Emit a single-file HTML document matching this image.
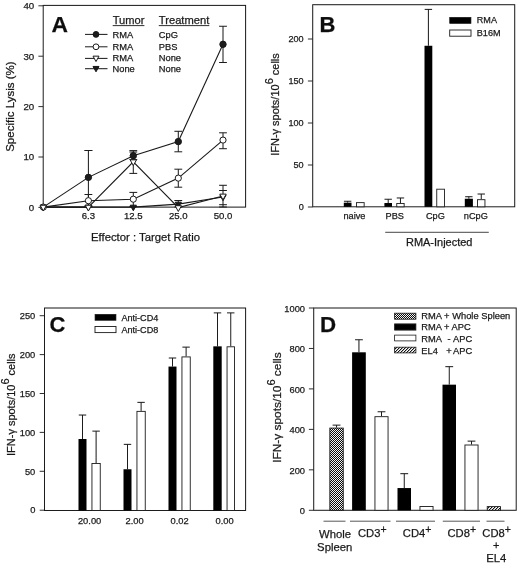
<!DOCTYPE html>
<html lang="en"><head><meta charset="utf-8"><title>Figure</title>
<style>html,body{margin:0;padding:0;background:#fff}svg{display:block}text{font-family:"Liberation Sans",sans-serif;stroke:#1a1a1a;stroke-width:0.25px}</style>
</head><body>
<svg width="520" height="564" viewBox="0 0 520 564">
<defs>
<pattern id="chk" width="2" height="2" patternUnits="userSpaceOnUse"><rect width="2" height="2" fill="#0a0a0a"/><rect width="1" height="1" fill="#f4f4f4"/><rect x="1" y="1" width="1" height="1" fill="#f4f4f4"/></pattern>
<pattern id="hat" width="3" height="3" patternUnits="userSpaceOnUse"><rect width="3" height="3" fill="#fff"/><rect x="0" y="0" width="1" height="1" fill="#b5b5b5"/><rect x="0" y="2" width="1" height="1" fill="#111"/><rect x="1" y="1" width="1" height="1" fill="#111"/><rect x="1" y="2" width="1" height="1" fill="#b5b5b5"/><rect x="2" y="0" width="1" height="1" fill="#111"/><rect x="2" y="1" width="1" height="1" fill="#b5b5b5"/></pattern>
<filter id="soft" x="0" y="0" width="520" height="564" filterUnits="userSpaceOnUse"><feGaussianBlur stdDeviation="0.4"/></filter>
</defs>
<rect width="520" height="564" fill="#fff"/>
<g filter="url(#soft)">
<rect x="43.20" y="5.40" width="202.40" height="201.70" fill="none" stroke="#1a1a1a" stroke-width="1"/>
<line x1="38.40" y1="207.40" x2="43.20" y2="207.40" stroke="#1a1a1a" stroke-width="0.9"/>
<text x="34.20" y="210.80" font-size="9.7" text-anchor="end" font-weight="normal" fill="#1a1a1a" >0</text>
<line x1="38.40" y1="157.00" x2="43.20" y2="157.00" stroke="#1a1a1a" stroke-width="0.9"/>
<text x="34.20" y="160.40" font-size="9.7" text-anchor="end" font-weight="normal" fill="#1a1a1a" >10</text>
<line x1="38.40" y1="106.60" x2="43.20" y2="106.60" stroke="#1a1a1a" stroke-width="0.9"/>
<text x="34.20" y="110.00" font-size="9.7" text-anchor="end" font-weight="normal" fill="#1a1a1a" >20</text>
<line x1="38.40" y1="56.20" x2="43.20" y2="56.20" stroke="#1a1a1a" stroke-width="0.9"/>
<text x="34.20" y="59.60" font-size="9.7" text-anchor="end" font-weight="normal" fill="#1a1a1a" >30</text>
<line x1="38.40" y1="5.80" x2="43.20" y2="5.80" stroke="#1a1a1a" stroke-width="0.9"/>
<text x="34.20" y="9.20" font-size="9.7" text-anchor="end" font-weight="normal" fill="#1a1a1a" >40</text>
<text x="88.40" y="218.70" font-size="9.6" text-anchor="middle" font-weight="normal" fill="#1a1a1a" >6.3</text>
<text x="133.30" y="218.70" font-size="9.6" text-anchor="middle" font-weight="normal" fill="#1a1a1a" >12.5</text>
<text x="178.30" y="218.70" font-size="9.6" text-anchor="middle" font-weight="normal" fill="#1a1a1a" >25.0</text>
<text x="223.00" y="218.70" font-size="9.6" text-anchor="middle" font-weight="normal" fill="#1a1a1a" >50.0</text>
<text x="145.50" y="240.60" font-size="11.5" text-anchor="middle" font-weight="normal" fill="#1a1a1a" textLength="109" lengthAdjust="spacingAndGlyphs">Effector : Target Ratio</text>
<text transform="translate(13.5,106.6) rotate(-90)" font-size="11.5" text-anchor="middle" fill="#1a1a1a" textLength="90.5" lengthAdjust="spacingAndGlyphs">Specific Lysis (%)</text>
<text x="51.60" y="32.20" font-size="22.8" text-anchor="start" font-weight="bold" fill="#111" >A</text>
<text x="112.70" y="23.70" font-size="11" text-anchor="start" font-weight="normal" fill="#1a1a1a" textLength="31.7" lengthAdjust="spacingAndGlyphs">Tumor</text>
<text x="158.80" y="23.70" font-size="11" text-anchor="start" font-weight="normal" fill="#1a1a1a" textLength="50.5" lengthAdjust="spacingAndGlyphs">Treatment</text>
<line x1="112.70" y1="25.60" x2="144.40" y2="25.60" stroke="#1a1a1a" stroke-width="0.9"/>
<line x1="158.80" y1="25.60" x2="209.30" y2="25.60" stroke="#1a1a1a" stroke-width="0.9"/>
<line x1="85.00" y1="34.40" x2="107.50" y2="34.40" stroke="#1a1a1a" stroke-width="1"/>
<circle cx="96.00" cy="34.40" r="2.9" fill="#1a1a1a" stroke="#1a1a1a" stroke-width="1"/>
<text x="112.50" y="37.60" font-size="9.3" text-anchor="start" font-weight="normal" fill="#1a1a1a" >RMA</text>
<text x="158.80" y="37.60" font-size="9.3" text-anchor="start" font-weight="normal" fill="#1a1a1a" >CpG</text>
<line x1="85.00" y1="46.80" x2="107.50" y2="46.80" stroke="#1a1a1a" stroke-width="1"/>
<circle cx="96.00" cy="46.80" r="2.9" fill="#fff" stroke="#1a1a1a" stroke-width="1"/>
<text x="112.50" y="49.90" font-size="9.3" text-anchor="start" font-weight="normal" fill="#1a1a1a" >RMA</text>
<text x="158.80" y="49.90" font-size="9.3" text-anchor="start" font-weight="normal" fill="#1a1a1a" >PBS</text>
<line x1="85.00" y1="58.40" x2="107.50" y2="58.40" stroke="#1a1a1a" stroke-width="1"/>
<polygon points="93.00,56.15 99.00,56.15 96.00,61.55" fill="#fff" stroke="#1a1a1a" stroke-width="1"/>
<text x="112.50" y="61.40" font-size="9.3" text-anchor="start" font-weight="normal" fill="#1a1a1a" >RMA</text>
<text x="158.80" y="61.40" font-size="9.3" text-anchor="start" font-weight="normal" fill="#1a1a1a" >None</text>
<line x1="85.00" y1="68.70" x2="107.50" y2="68.70" stroke="#1a1a1a" stroke-width="1"/>
<polygon points="93.00,66.45 99.00,66.45 96.00,71.85" fill="#1a1a1a" stroke="#1a1a1a" stroke-width="1"/>
<text x="112.50" y="71.60" font-size="9.3" text-anchor="start" font-weight="normal" fill="#1a1a1a" >None</text>
<text x="158.80" y="71.60" font-size="9.3" text-anchor="start" font-weight="normal" fill="#1a1a1a" >None</text>
<line x1="88.40" y1="150.50" x2="88.40" y2="206.00" stroke="#1a1a1a" stroke-width="1"/>
<line x1="84.30" y1="150.50" x2="92.50" y2="150.50" stroke="#1a1a1a" stroke-width="1"/>
<line x1="84.30" y1="206.00" x2="92.50" y2="206.00" stroke="#1a1a1a" stroke-width="1"/>
<line x1="133.30" y1="152.00" x2="133.30" y2="159.50" stroke="#1a1a1a" stroke-width="1"/>
<line x1="129.40" y1="152.00" x2="137.20" y2="152.00" stroke="#1a1a1a" stroke-width="1"/>
<line x1="129.40" y1="159.50" x2="137.20" y2="159.50" stroke="#1a1a1a" stroke-width="1"/>
<line x1="178.30" y1="131.30" x2="178.30" y2="151.80" stroke="#1a1a1a" stroke-width="1"/>
<line x1="174.40" y1="131.30" x2="182.20" y2="131.30" stroke="#1a1a1a" stroke-width="1"/>
<line x1="174.40" y1="151.80" x2="182.20" y2="151.80" stroke="#1a1a1a" stroke-width="1"/>
<line x1="223.00" y1="26.25" x2="223.00" y2="62.50" stroke="#1a1a1a" stroke-width="1"/>
<line x1="219.10" y1="26.25" x2="226.90" y2="26.25" stroke="#1a1a1a" stroke-width="1"/>
<line x1="219.10" y1="62.50" x2="226.90" y2="62.50" stroke="#1a1a1a" stroke-width="1"/>
<line x1="88.40" y1="194.50" x2="88.40" y2="206.50" stroke="#1a1a1a" stroke-width="1"/>
<line x1="84.50" y1="194.50" x2="92.30" y2="194.50" stroke="#1a1a1a" stroke-width="1"/>
<line x1="84.50" y1="206.50" x2="92.30" y2="206.50" stroke="#1a1a1a" stroke-width="1"/>
<line x1="133.30" y1="192.40" x2="133.30" y2="206.50" stroke="#1a1a1a" stroke-width="1"/>
<line x1="129.40" y1="192.40" x2="137.20" y2="192.40" stroke="#1a1a1a" stroke-width="1"/>
<line x1="129.40" y1="206.50" x2="137.20" y2="206.50" stroke="#1a1a1a" stroke-width="1"/>
<line x1="178.30" y1="169.20" x2="178.30" y2="187.20" stroke="#1a1a1a" stroke-width="1"/>
<line x1="174.40" y1="169.20" x2="182.20" y2="169.20" stroke="#1a1a1a" stroke-width="1"/>
<line x1="174.40" y1="187.20" x2="182.20" y2="187.20" stroke="#1a1a1a" stroke-width="1"/>
<line x1="223.00" y1="132.80" x2="223.00" y2="148.70" stroke="#1a1a1a" stroke-width="1"/>
<line x1="219.10" y1="132.80" x2="226.90" y2="132.80" stroke="#1a1a1a" stroke-width="1"/>
<line x1="219.10" y1="148.70" x2="226.90" y2="148.70" stroke="#1a1a1a" stroke-width="1"/>
<line x1="133.30" y1="150.60" x2="133.30" y2="173.40" stroke="#1a1a1a" stroke-width="1"/>
<line x1="129.40" y1="150.60" x2="137.20" y2="150.60" stroke="#1a1a1a" stroke-width="1"/>
<line x1="129.40" y1="173.40" x2="137.20" y2="173.40" stroke="#1a1a1a" stroke-width="1"/>
<line x1="178.30" y1="200.50" x2="178.30" y2="207.00" stroke="#1a1a1a" stroke-width="1"/>
<line x1="174.40" y1="200.50" x2="182.20" y2="200.50" stroke="#1a1a1a" stroke-width="1"/>
<line x1="174.40" y1="207.00" x2="182.20" y2="207.00" stroke="#1a1a1a" stroke-width="1"/>
<line x1="223.00" y1="185.30" x2="223.00" y2="207.00" stroke="#1a1a1a" stroke-width="1"/>
<line x1="219.10" y1="185.30" x2="226.90" y2="185.30" stroke="#1a1a1a" stroke-width="1"/>
<line x1="219.10" y1="207.00" x2="226.90" y2="207.00" stroke="#1a1a1a" stroke-width="1"/>
<line x1="219.10" y1="190.50" x2="226.90" y2="190.50" stroke="#1a1a1a" stroke-width="1"/>
<line x1="219.10" y1="204.70" x2="226.90" y2="204.70" stroke="#1a1a1a" stroke-width="1"/>
<polyline points="43.30,207.10 88.40,177.36 133.30,155.69 178.30,141.58 223.00,44.31" fill="none" stroke="#1a1a1a" stroke-width="1.1"/>
<polyline points="43.30,207.10 88.40,200.70 133.30,199.19 178.30,178.12 223.00,140.07" fill="none" stroke="#1a1a1a" stroke-width="1.1"/>
<polyline points="43.30,207.10 88.40,207.10 133.30,207.10 178.30,204.08 223.00,197.02" fill="none" stroke="#1a1a1a" stroke-width="1.1"/>
<polyline points="43.30,207.10 88.40,207.10 133.30,161.74 178.30,207.60 223.00,196.01" fill="none" stroke="#1a1a1a" stroke-width="1.1"/>
<circle cx="88.40" cy="177.36" r="3.2" fill="#1a1a1a" stroke="#1a1a1a" stroke-width="1"/>
<circle cx="133.30" cy="155.69" r="3.2" fill="#1a1a1a" stroke="#1a1a1a" stroke-width="1"/>
<circle cx="178.30" cy="141.58" r="3.2" fill="#1a1a1a" stroke="#1a1a1a" stroke-width="1"/>
<circle cx="223.00" cy="44.31" r="3.2" fill="#1a1a1a" stroke="#1a1a1a" stroke-width="1"/>
<circle cx="43.30" cy="207.10" r="3.1" fill="#fff" stroke="#1a1a1a" stroke-width="1"/>
<circle cx="88.40" cy="200.70" r="3.1" fill="#fff" stroke="#1a1a1a" stroke-width="1"/>
<circle cx="133.30" cy="199.19" r="3.1" fill="#fff" stroke="#1a1a1a" stroke-width="1"/>
<circle cx="178.30" cy="178.12" r="3.1" fill="#fff" stroke="#1a1a1a" stroke-width="1"/>
<circle cx="223.00" cy="140.07" r="3.1" fill="#fff" stroke="#1a1a1a" stroke-width="1"/>
<polygon points="40.20,205.18 46.40,205.18 43.30,210.75" fill="#1a1a1a" stroke="#1a1a1a" stroke-width="1"/>
<polygon points="85.30,205.18 91.50,205.18 88.40,210.75" fill="#1a1a1a" stroke="#1a1a1a" stroke-width="1"/>
<polygon points="130.20,205.18 136.40,205.18 133.30,210.75" fill="#1a1a1a" stroke="#1a1a1a" stroke-width="1"/>
<polygon points="175.20,202.15 181.40,202.15 178.30,207.73" fill="#1a1a1a" stroke="#1a1a1a" stroke-width="1"/>
<polygon points="219.90,195.09 226.10,195.09 223.00,200.67" fill="#1a1a1a" stroke="#1a1a1a" stroke-width="1"/>
<polygon points="40.10,205.20 46.50,205.20 43.30,210.96" fill="#fff" stroke="#1a1a1a" stroke-width="1"/>
<polygon points="85.20,205.20 91.60,205.20 88.40,210.96" fill="#fff" stroke="#1a1a1a" stroke-width="1"/>
<polygon points="130.10,159.84 136.50,159.84 133.30,165.60" fill="#fff" stroke="#1a1a1a" stroke-width="1"/>
<polygon points="175.10,205.70 181.50,205.70 178.30,211.46" fill="#fff" stroke="#1a1a1a" stroke-width="1"/>
<polygon points="219.80,194.11 226.20,194.11 223.00,199.87" fill="#fff" stroke="#1a1a1a" stroke-width="1"/>
<rect x="312.70" y="4.70" width="202.00" height="202.10" fill="none" stroke="#1a1a1a" stroke-width="1"/>
<line x1="307.90" y1="207.00" x2="312.70" y2="207.00" stroke="#1a1a1a" stroke-width="0.9"/>
<text x="303.70" y="210.00" font-size="9.1" text-anchor="end" font-weight="normal" fill="#1a1a1a" >0</text>
<line x1="307.90" y1="165.00" x2="312.70" y2="165.00" stroke="#1a1a1a" stroke-width="0.9"/>
<text x="303.70" y="168.00" font-size="9.1" text-anchor="end" font-weight="normal" fill="#1a1a1a" >50</text>
<line x1="307.90" y1="123.00" x2="312.70" y2="123.00" stroke="#1a1a1a" stroke-width="0.9"/>
<text x="303.70" y="126.00" font-size="9.1" text-anchor="end" font-weight="normal" fill="#1a1a1a" >100</text>
<line x1="307.90" y1="81.00" x2="312.70" y2="81.00" stroke="#1a1a1a" stroke-width="0.9"/>
<text x="303.70" y="84.00" font-size="9.1" text-anchor="end" font-weight="normal" fill="#1a1a1a" >150</text>
<line x1="307.90" y1="39.00" x2="312.70" y2="39.00" stroke="#1a1a1a" stroke-width="0.9"/>
<text x="303.70" y="42.00" font-size="9.1" text-anchor="end" font-weight="normal" fill="#1a1a1a" >200</text>
<text transform="translate(278.9,104.5) rotate(-90)" font-size="11" text-anchor="middle" fill="#1a1a1a" textLength="102.5" lengthAdjust="spacingAndGlyphs">IFN-γ spots/10<tspan dy="-6.3" font-size="11">6</tspan><tspan dy="6.3"> cells</tspan></text>
<text x="319.60" y="31.80" font-size="22" text-anchor="start" font-weight="bold" fill="#111" >B</text>
<rect x="449.70" y="17.30" width="21.30" height="6.20" fill="#000" stroke="#1a1a1a" stroke-width="0.6"/>
<rect x="449.70" y="30.00" width="21.30" height="6.20" fill="#fff" stroke="#1a1a1a" stroke-width="0.9"/>
<text x="476.80" y="23.40" font-size="9.1" text-anchor="start" font-weight="normal" fill="#1a1a1a" >RMA</text>
<text x="476.80" y="35.90" font-size="9.1" text-anchor="start" font-weight="normal" fill="#1a1a1a" >B16M</text>
<line x1="347.65" y1="201.26" x2="347.65" y2="202.68" stroke="#1a1a1a" stroke-width="1"/>
<line x1="343.95" y1="201.26" x2="351.35" y2="201.26" stroke="#1a1a1a" stroke-width="1"/>
<rect x="343.80" y="202.68" width="7.70" height="4.12" fill="#000"/>
<rect x="356.45" y="202.63" width="7.70" height="4.17" fill="#fff" stroke="#1a1a1a" stroke-width="0.9"/>
<line x1="388.20" y1="199.24" x2="388.20" y2="203.02" stroke="#1a1a1a" stroke-width="1"/>
<line x1="384.50" y1="199.24" x2="391.90" y2="199.24" stroke="#1a1a1a" stroke-width="1"/>
<rect x="384.40" y="203.02" width="7.60" height="3.78" fill="#000"/>
<line x1="400.45" y1="197.98" x2="400.45" y2="203.02" stroke="#1a1a1a" stroke-width="1"/>
<line x1="396.75" y1="197.98" x2="404.15" y2="197.98" stroke="#1a1a1a" stroke-width="1"/>
<rect x="396.75" y="203.47" width="7.40" height="3.33" fill="#fff" stroke="#1a1a1a" stroke-width="0.9"/>
<line x1="428.40" y1="9.40" x2="428.40" y2="45.77" stroke="#1a1a1a" stroke-width="1"/>
<line x1="424.70" y1="9.40" x2="432.10" y2="9.40" stroke="#1a1a1a" stroke-width="1"/>
<rect x="424.50" y="45.77" width="7.80" height="161.03" fill="#000"/>
<rect x="436.75" y="189.19" width="7.80" height="17.61" fill="#fff" stroke="#1a1a1a" stroke-width="0.9"/>
<line x1="468.85" y1="196.72" x2="468.85" y2="198.74" stroke="#1a1a1a" stroke-width="1"/>
<line x1="465.15" y1="196.72" x2="472.55" y2="196.72" stroke="#1a1a1a" stroke-width="1"/>
<rect x="464.80" y="198.74" width="8.10" height="8.06" fill="#000"/>
<line x1="481.25" y1="194.03" x2="481.25" y2="199.24" stroke="#1a1a1a" stroke-width="1"/>
<line x1="477.55" y1="194.03" x2="484.95" y2="194.03" stroke="#1a1a1a" stroke-width="1"/>
<rect x="477.55" y="199.69" width="7.40" height="7.11" fill="#fff" stroke="#1a1a1a" stroke-width="0.9"/>
<text x="354.40" y="219.20" font-size="9.2" text-anchor="middle" font-weight="normal" fill="#1a1a1a" >naive</text>
<text x="394.80" y="219.20" font-size="9.2" text-anchor="middle" font-weight="normal" fill="#1a1a1a" >PBS</text>
<text x="435.40" y="219.20" font-size="9.2" text-anchor="middle" font-weight="normal" fill="#1a1a1a" >CpG</text>
<text x="475.80" y="219.20" font-size="9.2" text-anchor="middle" font-weight="normal" fill="#1a1a1a" >nCpG</text>
<line x1="385.20" y1="232.30" x2="488.80" y2="232.30" stroke="#333" stroke-width="0.9"/>
<text x="439.20" y="246.40" font-size="10" text-anchor="middle" font-weight="normal" fill="#1a1a1a" textLength="66.3" lengthAdjust="spacingAndGlyphs">RMA-Injected</text>
<rect x="44.50" y="308.00" width="201.10" height="202.50" fill="none" stroke="#1a1a1a" stroke-width="1"/>
<line x1="39.70" y1="510.20" x2="44.50" y2="510.20" stroke="#1a1a1a" stroke-width="0.9"/>
<text x="35.30" y="513.40" font-size="9.3" text-anchor="end" font-weight="normal" fill="#1a1a1a" >0</text>
<line x1="39.70" y1="471.30" x2="44.50" y2="471.30" stroke="#1a1a1a" stroke-width="0.9"/>
<text x="35.30" y="474.50" font-size="9.3" text-anchor="end" font-weight="normal" fill="#1a1a1a" >50</text>
<line x1="39.70" y1="432.40" x2="44.50" y2="432.40" stroke="#1a1a1a" stroke-width="0.9"/>
<text x="35.30" y="435.60" font-size="9.3" text-anchor="end" font-weight="normal" fill="#1a1a1a" >100</text>
<line x1="39.70" y1="393.50" x2="44.50" y2="393.50" stroke="#1a1a1a" stroke-width="0.9"/>
<text x="35.30" y="396.70" font-size="9.3" text-anchor="end" font-weight="normal" fill="#1a1a1a" >150</text>
<line x1="39.70" y1="354.60" x2="44.50" y2="354.60" stroke="#1a1a1a" stroke-width="0.9"/>
<text x="35.30" y="357.80" font-size="9.3" text-anchor="end" font-weight="normal" fill="#1a1a1a" >200</text>
<line x1="39.70" y1="315.70" x2="44.50" y2="315.70" stroke="#1a1a1a" stroke-width="0.9"/>
<text x="35.30" y="318.90" font-size="9.3" text-anchor="end" font-weight="normal" fill="#1a1a1a" >250</text>
<text transform="translate(15.2,404.7) rotate(-90)" font-size="11" text-anchor="middle" fill="#1a1a1a" textLength="102.5" lengthAdjust="spacingAndGlyphs">IFN-γ spots/10<tspan dy="-6.3" font-size="11">6</tspan><tspan dy="6.3"> cells</tspan></text>
<text x="49.60" y="331.60" font-size="22" text-anchor="start" font-weight="bold" fill="#111" >C</text>
<line x1="82.50" y1="415.04" x2="82.50" y2="439.00" stroke="#1a1a1a" stroke-width="1"/>
<line x1="78.80" y1="415.04" x2="86.20" y2="415.04" stroke="#1a1a1a" stroke-width="1"/>
<rect x="78.50" y="439.00" width="8.00" height="71.50" fill="#000"/>
<line x1="96.10" y1="431.14" x2="96.10" y2="463.04" stroke="#1a1a1a" stroke-width="1"/>
<line x1="92.40" y1="431.14" x2="99.80" y2="431.14" stroke="#1a1a1a" stroke-width="1"/>
<rect x="91.95" y="463.49" width="8.30" height="47.01" fill="#fff" stroke="#1a1a1a" stroke-width="0.9"/>
<line x1="127.50" y1="444.37" x2="127.50" y2="469.27" stroke="#1a1a1a" stroke-width="1"/>
<line x1="123.80" y1="444.37" x2="131.20" y2="444.37" stroke="#1a1a1a" stroke-width="1"/>
<rect x="123.50" y="469.27" width="8.00" height="41.23" fill="#000"/>
<line x1="141.10" y1="402.36" x2="141.10" y2="410.92" stroke="#1a1a1a" stroke-width="1"/>
<line x1="137.40" y1="402.36" x2="144.80" y2="402.36" stroke="#1a1a1a" stroke-width="1"/>
<rect x="136.95" y="411.37" width="8.30" height="99.13" fill="#fff" stroke="#1a1a1a" stroke-width="0.9"/>
<line x1="172.50" y1="358.01" x2="172.50" y2="366.57" stroke="#1a1a1a" stroke-width="1"/>
<line x1="168.80" y1="358.01" x2="176.20" y2="358.01" stroke="#1a1a1a" stroke-width="1"/>
<rect x="168.50" y="366.57" width="8.00" height="143.93" fill="#000"/>
<line x1="186.10" y1="347.12" x2="186.10" y2="356.46" stroke="#1a1a1a" stroke-width="1"/>
<line x1="182.40" y1="347.12" x2="189.80" y2="347.12" stroke="#1a1a1a" stroke-width="1"/>
<rect x="181.95" y="356.91" width="8.30" height="153.59" fill="#fff" stroke="#1a1a1a" stroke-width="0.9"/>
<line x1="217.50" y1="312.89" x2="217.50" y2="346.34" stroke="#1a1a1a" stroke-width="1"/>
<line x1="213.80" y1="312.89" x2="221.20" y2="312.89" stroke="#1a1a1a" stroke-width="1"/>
<rect x="213.30" y="346.34" width="8.40" height="164.16" fill="#000"/>
<line x1="230.75" y1="312.89" x2="230.75" y2="346.34" stroke="#1a1a1a" stroke-width="1"/>
<line x1="227.05" y1="312.89" x2="234.45" y2="312.89" stroke="#1a1a1a" stroke-width="1"/>
<rect x="227.05" y="346.79" width="7.40" height="163.71" fill="#fff" stroke="#1a1a1a" stroke-width="0.9"/>
<text x="89.60" y="524.20" font-size="9.3" text-anchor="middle" font-weight="normal" fill="#1a1a1a" >20.00</text>
<text x="134.60" y="524.20" font-size="9.3" text-anchor="middle" font-weight="normal" fill="#1a1a1a" >2.00</text>
<text x="179.60" y="524.20" font-size="9.3" text-anchor="middle" font-weight="normal" fill="#1a1a1a" >0.02</text>
<text x="224.60" y="524.20" font-size="9.3" text-anchor="middle" font-weight="normal" fill="#1a1a1a" >0.00</text>
<rect x="95.00" y="314.30" width="21.00" height="6.00" fill="#000" stroke="#1a1a1a" stroke-width="0.6"/>
<rect x="95.00" y="326.50" width="21.00" height="6.10" fill="#fff" stroke="#1a1a1a" stroke-width="0.9"/>
<text x="121.40" y="320.80" font-size="9.1" text-anchor="start" font-weight="normal" fill="#1a1a1a" >Anti-CD4</text>
<text x="121.40" y="333.00" font-size="9.1" text-anchor="start" font-weight="normal" fill="#1a1a1a" >Anti-CD8</text>
<rect x="313.70" y="308.00" width="202.50" height="202.30" fill="none" stroke="#1a1a1a" stroke-width="1"/>
<line x1="308.90" y1="510.30" x2="313.70" y2="510.30" stroke="#1a1a1a" stroke-width="0.9"/>
<text x="305.00" y="514.00" font-size="9.3" text-anchor="end" font-weight="normal" fill="#1a1a1a" >0</text>
<line x1="308.90" y1="469.84" x2="313.70" y2="469.84" stroke="#1a1a1a" stroke-width="0.9"/>
<text x="305.00" y="473.54" font-size="9.3" text-anchor="end" font-weight="normal" fill="#1a1a1a" >200</text>
<line x1="308.90" y1="429.38" x2="313.70" y2="429.38" stroke="#1a1a1a" stroke-width="0.9"/>
<text x="305.00" y="433.08" font-size="9.3" text-anchor="end" font-weight="normal" fill="#1a1a1a" >400</text>
<line x1="308.90" y1="388.92" x2="313.70" y2="388.92" stroke="#1a1a1a" stroke-width="0.9"/>
<text x="305.00" y="392.62" font-size="9.3" text-anchor="end" font-weight="normal" fill="#1a1a1a" >600</text>
<line x1="308.90" y1="348.46" x2="313.70" y2="348.46" stroke="#1a1a1a" stroke-width="0.9"/>
<text x="305.00" y="352.16" font-size="9.3" text-anchor="end" font-weight="normal" fill="#1a1a1a" >800</text>
<line x1="308.90" y1="308.00" x2="313.70" y2="308.00" stroke="#1a1a1a" stroke-width="0.9"/>
<text x="305.00" y="311.70" font-size="9.3" text-anchor="end" font-weight="normal" fill="#1a1a1a" >1000</text>
<text transform="translate(281.4,407.6) rotate(-90)" font-size="11.8" text-anchor="middle" fill="#1a1a1a" textLength="110.5" lengthAdjust="spacingAndGlyphs">IFN-γ spots/10<tspan dy="-6.3" font-size="11">6</tspan><tspan dy="6.3"> cells</tspan></text>
<text x="320.00" y="332.00" font-size="22.3" text-anchor="start" font-weight="bold" fill="#111" >D</text>
<line x1="336.55" y1="425.13" x2="336.55" y2="427.64" stroke="#1a1a1a" stroke-width="1"/>
<line x1="332.65" y1="425.13" x2="340.45" y2="425.13" stroke="#1a1a1a" stroke-width="1"/>
<line x1="358.95" y1="339.76" x2="358.95" y2="352.30" stroke="#1a1a1a" stroke-width="1"/>
<line x1="355.05" y1="339.76" x2="362.85" y2="339.76" stroke="#1a1a1a" stroke-width="1"/>
<rect x="352.10" y="352.30" width="13.70" height="158.00" fill="#000"/>
<line x1="381.50" y1="411.78" x2="381.50" y2="416.23" stroke="#1a1a1a" stroke-width="1"/>
<line x1="377.60" y1="411.78" x2="385.40" y2="411.78" stroke="#1a1a1a" stroke-width="1"/>
<rect x="374.95" y="416.68" width="13.10" height="93.62" fill="#fff" stroke="#1a1a1a" stroke-width="0.9"/>
<line x1="404.25" y1="473.68" x2="404.25" y2="488.05" stroke="#1a1a1a" stroke-width="1"/>
<line x1="400.35" y1="473.68" x2="408.15" y2="473.68" stroke="#1a1a1a" stroke-width="1"/>
<rect x="397.50" y="488.05" width="13.50" height="22.25" fill="#000"/>
<rect x="419.95" y="506.50" width="13.10" height="3.80" fill="#fff" stroke="#1a1a1a" stroke-width="0.9"/>
<line x1="449.25" y1="366.67" x2="449.25" y2="384.67" stroke="#1a1a1a" stroke-width="1"/>
<line x1="445.35" y1="366.67" x2="453.15" y2="366.67" stroke="#1a1a1a" stroke-width="1"/>
<rect x="442.50" y="384.67" width="13.50" height="125.63" fill="#000"/>
<line x1="471.50" y1="441.11" x2="471.50" y2="444.55" stroke="#1a1a1a" stroke-width="1"/>
<line x1="467.60" y1="441.11" x2="475.40" y2="441.11" stroke="#1a1a1a" stroke-width="1"/>
<rect x="464.95" y="445.00" width="13.10" height="65.30" fill="#fff" stroke="#1a1a1a" stroke-width="0.9"/>
<rect x="394.60" y="323.90" width="21.30" height="6.20" fill="#000" stroke="#1a1a1a" stroke-width="0.8"/>
<rect x="394.60" y="335.10" width="21.30" height="5.80" fill="#fff" stroke="#1a1a1a" stroke-width="0.8"/>
<text x="421.30" y="319.40" font-size="9.3" text-anchor="start" font-weight="normal" fill="#1a1a1a" textLength="89" lengthAdjust="spacingAndGlyphs">RMA + Whole Spleen</text>
<text x="421.30" y="330.30" font-size="9.3" text-anchor="start" font-weight="normal" fill="#1a1a1a" >RMA + APC</text>
<text x="421.30" y="341.90" font-size="9.3" text-anchor="start" font-weight="normal" fill="#1a1a1a" >RMA</text>
<text x="447.60" y="341.90" font-size="9.3" text-anchor="start" font-weight="normal" fill="#1a1a1a" >-</text>
<text x="453.00" y="341.90" font-size="9.3" text-anchor="start" font-weight="normal" fill="#1a1a1a" >APC</text>
<text x="421.30" y="353.50" font-size="9.3" text-anchor="start" font-weight="normal" fill="#1a1a1a" >EL4</text>
<text x="446.20" y="353.50" font-size="9.3" text-anchor="start" font-weight="normal" fill="#1a1a1a" >+</text>
<text x="453.00" y="353.50" font-size="9.3" text-anchor="start" font-weight="normal" fill="#1a1a1a" >APC</text>
<line x1="323.50" y1="521.20" x2="345.50" y2="521.20" stroke="#444" stroke-width="0.9"/>
<line x1="350.00" y1="521.20" x2="390.50" y2="521.20" stroke="#444" stroke-width="0.9"/>
<line x1="396.00" y1="521.20" x2="435.00" y2="521.20" stroke="#444" stroke-width="0.9"/>
<line x1="442.80" y1="521.20" x2="480.00" y2="521.20" stroke="#444" stroke-width="0.9"/>
<line x1="486.50" y1="521.20" x2="504.50" y2="521.20" stroke="#444" stroke-width="0.9"/>
<text x="335.00" y="537.60" font-size="11.3" text-anchor="middle" font-weight="normal" fill="#1a1a1a" >Whole</text>
<text x="334.70" y="550.80" font-size="11.3" text-anchor="middle" font-weight="normal" fill="#1a1a1a" >Spleen</text>
<text x="358.00" y="537.40" font-size="11.2" fill="#1a1a1a">CD3<tspan dy="-4.2" font-size="10.5">+</tspan></text>
<text x="402.80" y="537.40" font-size="11.2" fill="#1a1a1a">CD4<tspan dy="-4.2" font-size="10.5">+</tspan></text>
<text x="447.50" y="537.40" font-size="11.2" fill="#1a1a1a">CD8<tspan dy="-4.2" font-size="10.5">+</tspan></text>
<text x="482.30" y="537.40" font-size="11.2" fill="#1a1a1a">CD8<tspan dy="-4.2" font-size="10.5">+</tspan></text>
<text x="496.20" y="549.30" font-size="11" text-anchor="middle" font-weight="normal" fill="#1a1a1a" >+</text>
<text x="496.20" y="562.30" font-size="11.3" text-anchor="middle" font-weight="normal" fill="#1a1a1a" >EL4</text>
</g>
<g>
<rect x="329.85" y="428.09" width="13.40" height="82.21" fill="url(#chk)" stroke="#1a1a1a" stroke-width="0.9"/>
<rect x="487.25" y="506.60" width="13.30" height="3.70" fill="url(#hat)" stroke="#1a1a1a" stroke-width="0.9"/>
<rect x="394.60" y="313.20" width="21.30" height="6.00" fill="url(#chk)" stroke="#1a1a1a" stroke-width="0.8"/>
<rect x="394.60" y="347.20" width="21.30" height="5.70" fill="url(#hat)" stroke="#1a1a1a" stroke-width="0.8"/>
</g></svg>
</body></html>
